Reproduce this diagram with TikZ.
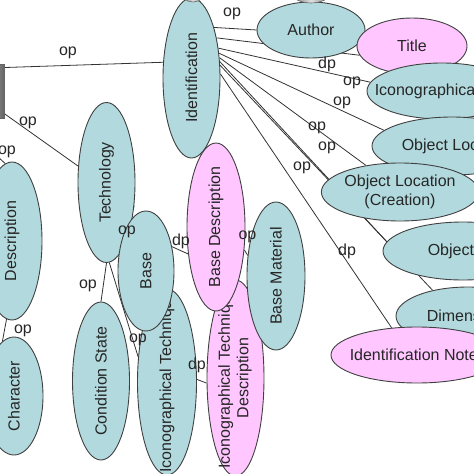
\documentclass[tikz,border=0pt]{standalone}
\usepackage{fontspec}
\setmainfont{Liberation Sans}
\usepackage{graphicx}
\usepackage{xcolor}
\usepackage{tikz}
\usetikzlibrary{positioning, backgrounds}
\usetikzlibrary{shapes,shapes.geometric,shadings}

\definecolor{clscyan}{RGB}{178,218,222}
\definecolor{clspink}{RGB}{255,198,255}
\newcommand{\vtxt}[1]{\rotatebox{90}{\makebox[0pt]{#1}}}

\begin{document}
\begin{tikzpicture}[-, x=1pt, y=-1pt, on grid,
  cls/.style={ellipse, draw=black!75, line width=0.9pt, fill=clscyan, inner sep=0pt, text=black!85, font=\fontsize{16}{18.5}\selectfont},
  dat/.style={cls, fill=clspink},
  ext/.style={draw=black!60, line width=0.6pt, left color=gray!80!black, right color=gray!80!black, middle color=gray!25},
  rel/.style={draw=black!80, line width=0.8pt},
  lbl/.style={inner sep=0pt, text=black!85, font=\fontsize{16}{18.5}\selectfont}]
			\useasboundingbox (0,0) rectangle (474,474);
			\clip (0,0) rectangle (474,474);

			\node[cls, minimum width=57pt, minimum height=160pt] (id) at (191.5,78) {\vtxt{Identification}};
			\node[ext, rectangle, minimum width=64pt, minimum height=54pt, below left = 13pt and 219.5pt of id] (pa) {};
			\node[ext, ellipse, minimum width=26pt, minimum height=24pt, above right = 88pt and 1.5pt of id] (ta) {};
			\node[cls, minimum width=108pt, minimum height=56pt, above right = 48pt and 119.5pt of id] (au) {Author};
			\node[ext, ellipse, minimum width=46pt, minimum height=30pt, above = 42pt of au] (tb) {};
			\node[dat, minimum width=110pt, minimum height=56pt, below right = 16pt and 101pt of au] (ti) {Title};
			\node[cls, minimum width=150pt, minimum height=56pt, below right = 45pt and 30pt of ti] (ic) {};
			\node[cls, minimum width=160pt, minimum height=58pt, below right = 55pt and 10pt of ic] (ol) {};
			\node[cls, align=center, minimum width=156pt, minimum height=58pt, below left = 46pt and 52pt of ol] (olc) {Object Location\\(Creation)};
			\node[cls, minimum width=160pt, minimum height=58pt, below right = 59pt and 63pt of olc] (ob) {};
			\node[cls, minimum width=144pt, minimum height=58pt, below right = 65pt and 5pt of ob] (dm) {};
			\node[dat, minimum width=172pt, minimum height=56pt, below left = 39pt and 51pt of dm] (nt) {};

			\node[lbl, anchor=west] (t0) at ([xshift=8pt]ic.west) {Iconographical};
			\node[lbl, anchor=west] (t1) at ([xshift=30pt]ol.west) {Object Location};
			\node[lbl, anchor=west] (t2) at ([xshift=45pt]ob.west) {Object};
			\node[lbl, anchor=west] (t3) at ([xshift=31pt]dm.west) {Dimensions};
			\node[lbl, anchor=west] (t4) at ([xshift=19pt]nt.west) {Identification Notes};

			\node[cls, minimum width=57pt, minimum height=160pt, below left = 104.5pt and 85pt of id] (te) {\vtxt{Technology}};
			\node[cls, minimum width=60pt, minimum height=158pt, below left = 58.5pt and 94.5pt of te] (de) {\vtxt{Description}};
			\node[cls, minimum width=58pt, minimum height=118pt, below right = 155pt and 2pt of de] (ch) {\vtxt{Character}};
			\node[cls, minimum width=59pt, minimum height=186pt, below right = 199.5pt and 60.5pt of te] (it) {\vtxt{Iconographical Technique}};
			\node[cls, minimum width=57pt, minimum height=158pt, below left = 198.5pt and 5.5pt of te] (cs) {\vtxt{Condition State}};
			\node[dat, minimum width=57pt, minimum height=196pt, above right = 4pt and 68.5pt of it] (itd) {\vtxt{\begin{tabular}{@{}c@{}}Iconographical Technique\\Description\end{tabular}}};
			\node[cls, minimum width=56pt, minimum height=120pt, below right = 88.5pt and 39.5pt of te] (ba) {\vtxt{Base}};
			\node[dat, minimum width=58pt, minimum height=168pt, above right = 44pt and 70pt of ba] (bd) {\vtxt{Base Description}};
			\node[cls, minimum width=58pt, minimum height=148pt, below right = 49pt and 60pt of bd] (bm) {\vtxt{Base Material}};

			\node[lbl, above left = 25pt and 123.5pt of id] (l0) {op};
			\node[lbl, above left = 59.5pt and 78.5pt of te] (l1) {op};
			\node[lbl, above left = 89pt and 5pt of de] (l2) {op};
			\node[lbl, above right = 65pt and 9pt of ch] (l3) {op};
			\node[lbl, above left = 16pt and 79pt of au] (l4) {op};
			\node[lbl, below left = 18pt and 85pt of ti] (l5) {dp};
			\node[lbl, above left = 8pt and 90pt of ic] (l6) {op};
			\node[lbl, above left = 43pt and 110pt of ol] (l7) {op};
			\node[lbl, above left = 64pt and 83pt of olc] (l8) {op};
			\node[lbl, above left = 44pt and 73pt of olc] (l9) {op};
			\node[lbl, above left = 24pt and 98pt of olc] (l10) {op};
			\node[lbl, above left = 104pt and 70pt of nt] (l11) {dp};
			\node[lbl, above left = 39pt and 19pt of ba] (l12) {op};
			\node[lbl, above right = 30pt and 35pt of ba] (l13) {dp};
			\node[lbl, above left = 39pt and 28.5pt of bm] (l14) {op};
			\node[lbl, above left = 95pt and 13pt of cs] (l15) {op};
			\node[lbl, above left = 42pt and 29pt of it] (l16) {op};
			\node[lbl, above right = 17pt and 30pt of it] (l17) {dp};

			\begin{scope}[on background layer]
			\clip (0,0) rectangle (474,474);
			\coordinate[above left = 96pt and 27pt of de] (off);
			\draw[rel] (pa.36) edge[] (id.151);
			\draw[rel] (pa.-35) edge[] (te.150);
			\draw[rel] (off) edge[] (de.95);
			\draw[rel] (de.266) edge[] (ch.102);
			\draw[rel] (id.66) edge[] (au.west);
			\draw[rel] (id.58) edge[] (ti.190);
			\draw[rel] (id.48) edge[] (ic.173);
			\draw[rel] (id.42) edge[] (ol.167);
			\draw[rel] (id.36) edge[] (olc.142);
			\draw[rel] (id.30) edge[] (ob.173);
			\draw[rel] (id.24) edge[] (dm.144);
			\draw[rel] (id.8) edge[] (nt.133);
			\draw[rel] (te.south) edge[] (cs.north);
			\draw[rel] (te.-88) edge[] (it.139);
			\draw[rel] (te.-40) edge[] (ba.130);
			\draw[rel] (ba.43) edge[] (bd.224);
			\draw[rel] (bd.-39) edge[] (bm.144);
			\draw[rel] (it.5) edge[] (itd.190);
			\end{scope}
\end{tikzpicture}
\end{document}
